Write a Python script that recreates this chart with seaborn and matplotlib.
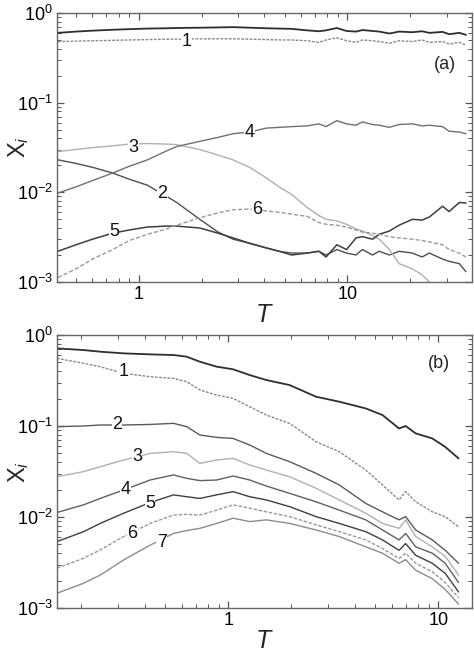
import numpy as np
import pandas as pd
import matplotlib
matplotlib.use("Agg")
import matplotlib.pyplot as plt
import seaborn as sns

# ---------------- Panel (a) data ----------------
T_a = [0.41, 0.5, 0.6, 0.75, 0.9, 1.1, 1.36, 1.52, 1.96, 2.4, 2.83, 3.4, 4.08, 4.7, 5.4,
       6.4, 7.3, 7.9, 8.9, 9.9, 11.0, 11.8, 13.2, 14.2, 15.9, 17.7, 20.5, 22.8, 24.7,
       28.6, 30.7, 34.4, 37.0]
a_1s = [0.60, 0.62, 0.635, 0.65, 0.66, 0.67, 0.675, 0.68, 0.685, 0.69, 0.695, 0.685, 0.675,
        0.67, 0.665, 0.64, 0.625, 0.64, 0.68, 0.63, 0.62, 0.645, 0.63, 0.62, 0.59, 0.62,
        0.61, 0.625, 0.60, 0.615, 0.58, 0.60, 0.57]
a_1d = [0.48, 0.485, 0.49, 0.495, 0.50, 0.505, 0.51, 0.51, 0.515, 0.515, 0.515, 0.51, 0.505,
        0.50, 0.50, 0.49, 0.47, 0.50, 0.53, 0.49, 0.47, 0.50, 0.49, 0.48, 0.46, 0.49, 0.48,
        0.50, 0.47, 0.48, 0.45, 0.47, 0.44]
a_2 = [0.023, 0.021, 0.019, 0.0164, 0.014, 0.012, 0.0090, 0.0077, 0.0050, 0.0036, 0.0030,
       0.0027, 0.0024, 0.0022, 0.0021, 0.0021, 0.0022, 0.0020, 0.0023, 0.0021, 0.0020,
       0.0023, 0.0020, 0.0022, 0.0020, 0.0022, 0.0021, 0.0019, 0.0021, 0.0018, 0.0017,
       0.0016, 0.0013]
a_3 = [0.0285, 0.030, 0.0315, 0.033, 0.0345, 0.035, 0.0345, 0.034, 0.030, 0.026, 0.023,
       0.019, 0.0145, 0.0115, 0.0095, 0.0068, 0.0055, 0.0050, 0.0048, 0.0044, 0.0039,
       0.0037, 0.0033, 0.0030, 0.0023, 0.0016, 0.0014, 0.0012, 0.0010, 0.0008, 0.0007,
       0.0006, 0.0005]
a_4 = [0.0098, 0.0115, 0.0135, 0.0164, 0.0195, 0.023, 0.029, 0.0324, 0.037, 0.041, 0.045,
       0.047, 0.052, 0.053, 0.054, 0.055, 0.058, 0.054, 0.063, 0.058, 0.056, 0.061, 0.057,
       0.056, 0.053, 0.057, 0.058, 0.055, 0.056, 0.054, 0.048, 0.047, 0.045]
a_5 = [0.0022, 0.0026, 0.0030, 0.0035, 0.0038, 0.0041, 0.0042, 0.0042, 0.0040, 0.0035,
       0.0031, 0.0027, 0.0024, 0.0022, 0.0020, 0.0021, 0.0022, 0.0019, 0.0026, 0.0023,
       0.0031, 0.0032, 0.0030, 0.0034, 0.0037, 0.0043, 0.0050, 0.0049, 0.0053, 0.0070,
       0.0061, 0.0077, 0.0076]
a_6 = [0.00112, 0.0014, 0.0018, 0.0023, 0.0029, 0.0034, 0.0039, 0.0043, 0.0052, 0.0059,
       0.0064, 0.0065, 0.0062, 0.0060, 0.0057, 0.0054, 0.0046, 0.0044, 0.0043, 0.0041,
       0.0038, 0.0036, 0.0035, 0.0034, 0.0032, 0.0031, 0.0030, 0.0029, 0.0028, 0.0026,
       0.0023, 0.0021, 0.0019]

# ---------------- Panel (b) data ----------------
T_b = [0.153, 0.205, 0.246, 0.318, 0.425, 0.549, 0.635, 0.734, 0.881, 1.056, 1.267, 1.52,
       1.96, 2.62, 3.38, 4.52, 5.43, 6.51, 7.0, 7.81, 9.37, 10.8, 12.5]
b_1s = [0.713, 0.684, 0.656, 0.629, 0.613, 0.603, 0.578, 0.509, 0.449, 0.420, 0.363, 0.320,
        0.282, 0.210, 0.185, 0.156, 0.132, 0.094, 0.100, 0.083, 0.073, 0.059, 0.044]
b_1d = [0.554, 0.489, 0.449, 0.379, 0.348, 0.334, 0.307, 0.249, 0.219, 0.201, 0.163, 0.132,
        0.107, 0.0673, 0.0522, 0.0328, 0.0225, 0.0154, 0.0190, 0.0147, 0.0114, 0.0101, 0.0078]
b_2 = [0.0984, 0.100, 0.1026, 0.1026, 0.104, 0.107, 0.0984, 0.0796, 0.075, 0.073, 0.0618,
       0.050, 0.0406, 0.0302, 0.0225, 0.0141, 0.0114, 0.0093, 0.0101, 0.0072, 0.0056,
       0.0043, 0.0031]
b_3 = [0.0277, 0.0315, 0.0357, 0.0423, 0.050, 0.0522, 0.050, 0.0389, 0.0423, 0.0441, 0.0373,
       0.0328, 0.0277, 0.0207, 0.0154, 0.0110, 0.0085, 0.0075, 0.0093, 0.0061, 0.0047,
       0.0037, 0.0023]
b_4 = [0.0112, 0.0136, 0.0160, 0.0198, 0.0255, 0.0290, 0.0266, 0.0251, 0.0255, 0.0282,
       0.0255, 0.0219, 0.0182, 0.0147, 0.0119, 0.0093, 0.0072, 0.0056, 0.0066, 0.0047,
       0.0040, 0.0031, 0.0019]
b_5 = [0.00536, 0.0069, 0.0085, 0.0110, 0.0144, 0.0175, 0.0167, 0.0160, 0.0175, 0.0190,
       0.0167, 0.0154, 0.0130, 0.0101, 0.0085, 0.0069, 0.0056, 0.0043, 0.0051, 0.0038,
       0.0031, 0.0024, 0.0015]
b_6 = [0.00273, 0.00352, 0.00434, 0.0061, 0.0085, 0.0105, 0.0107, 0.0105, 0.0119, 0.0136,
       0.0125, 0.0114, 0.0101, 0.0082, 0.0069, 0.0056, 0.0045, 0.0035, 0.0040, 0.0031,
       0.0025, 0.0019, 0.0013]
b_7 = [0.00145, 0.00187, 0.0023, 0.00337, 0.0049, 0.0066, 0.0071, 0.0075, 0.0085, 0.0097,
       0.0089, 0.0093, 0.0085, 0.0072, 0.0061, 0.0047, 0.0040, 0.0031, 0.0034, 0.0026,
       0.0021, 0.0016, 0.0011]

y_ticks = [1e-3, 1e-2, 1e-1, 1e0]
y_ticklabels = [r'$\mathregular{10^{-3}}$', r'$\mathregular{10^{-2}}$',
                r'$\mathregular{10^{-1}}$', r'$\mathregular{10^{0}}$']
x_ticks = [1, 10]
x_ticklabels = ['1', '10']

# curve labels: (text, T, X)
labels_a = [('1', 1.70, 0.476), ('2', 1.30, 0.0098), ('3', 0.94, 0.032),
            ('4', 3.40, 0.046), ('5', 0.76, 0.0037), ('6', 3.70, 0.0065)]
labels_b = [('1', 0.318, 0.395), ('2', 0.296, 0.103), ('3', 0.368, 0.046),
            ('4', 0.324, 0.020), ('5', 0.425, 0.0141), ('6', 0.349, 0.0066),
            ('7', 0.483, 0.0053)]

sns.set_theme(style="ticks")
plt.rcParams['font.family'] = ['Liberation Sans', 'DejaVu Sans']
plt.rcParams['mathtext.fontset'] = 'custom'
plt.rcParams['mathtext.rm'] = 'Liberation Sans'
plt.rcParams['mathtext.it'] = 'Liberation Sans:italic'

fig = plt.figure(figsize=(4.74, 6.55), dpi=100)
ax1 = fig.add_axes([0.120, 0.5695, 0.876, 0.4107])
ax2 = fig.add_axes([0.120, 0.0718, 0.876, 0.4167])

def draw(ax, T, Y, color, ls, lw=1.0):
    df = pd.DataFrame({'T': T, 'X': Y})
    sns.lineplot(data=df, x='T', y='X', ax=ax, color=color, linestyle=ls,
                 linewidth=lw, estimator=None, sort=False)

draw(ax1, T_a, a_1s, '#2e2e2e', '-', 1.3)
draw(ax1, T_a, a_1d, '#8a8a8a', (0, (2, 1)), 1.0)
draw(ax1, T_a, a_2, '#4f4f4f', '-', 1.0)
draw(ax1, T_a, a_3, '#b0b0b0', '-', 1.0)
draw(ax1, T_a, a_4, '#707070', '-', 1.0)
draw(ax1, T_a, a_5, '#3e3e3e', '-', 1.1)
draw(ax1, T_a, a_6, '#9a9a9a', (0, (3, 1.5)), 1.0)

draw(ax2, T_b, b_1s, '#2e2e2e', '-', 1.3)
draw(ax2, T_b, b_1d, '#8a8a8a', (0, (2, 1)), 1.0)
draw(ax2, T_b, b_2, '#5a5a5a', '-', 1.0)
draw(ax2, T_b, b_3, '#b0b0b0', '-', 1.0)
draw(ax2, T_b, b_4, '#606060', '-', 1.0)
draw(ax2, T_b, b_5, '#3e3e3e', '-', 1.0)
draw(ax2, T_b, b_6, '#9a9a9a', (0, (2.5, 1.2)), 1.0)
draw(ax2, T_b, b_7, '#8c8c8c', '-', 1.0)

for ax, xlim, labs, tag, tagpos in [
        (ax1, (0.405, 39.6), labels_a, '(a)', (0.935, 0.81)),
        (ax2, (0.153, 14.5), labels_b, '(b)', (0.92, 0.895))]:
    ax.set_xscale('log')
    ax.set_yscale('log')
    ax.set_xlim(*xlim)
    ax.set_ylim(1e-3, 1.0)
    ax.set_yticks(y_ticks)
    ax.set_yticklabels(y_ticklabels, fontsize=13)
    ax.set_xticks(x_ticks)
    ax.set_xticklabels(x_ticklabels, fontsize=13)
    ax.tick_params(which='both', direction='in', top=True, right=True,
                   colors='#555555', labelcolor='black')
    ax.tick_params(which='major', length=5, width=0.9, pad=3)
    ax.tick_params(which='minor', length=3, width=0.7)
    for sp in ax.spines.values():
        sp.set_color('#666666')
        sp.set_linewidth(1.0)
    ax.set_xlabel('$\\it{T}$', fontsize=18, labelpad=0)
    ax.set_ylabel(r'$\mathregular{X}_{\it{i}}$', fontsize=17)
    ax.yaxis.set_label_coords(-0.062, 0.5)
    for txt, tx, ty in labs:
        ax.text(tx, ty, txt, fontsize=13, ha='center', va='center', color='#111111',
                bbox=dict(facecolor='white', edgecolor='none', pad=0.3))
    ax.text(tagpos[0], tagpos[1], tag, transform=ax.transAxes, fontsize=13,
            ha='center', va='center')

fig.savefig('out.png', dpi=100)
